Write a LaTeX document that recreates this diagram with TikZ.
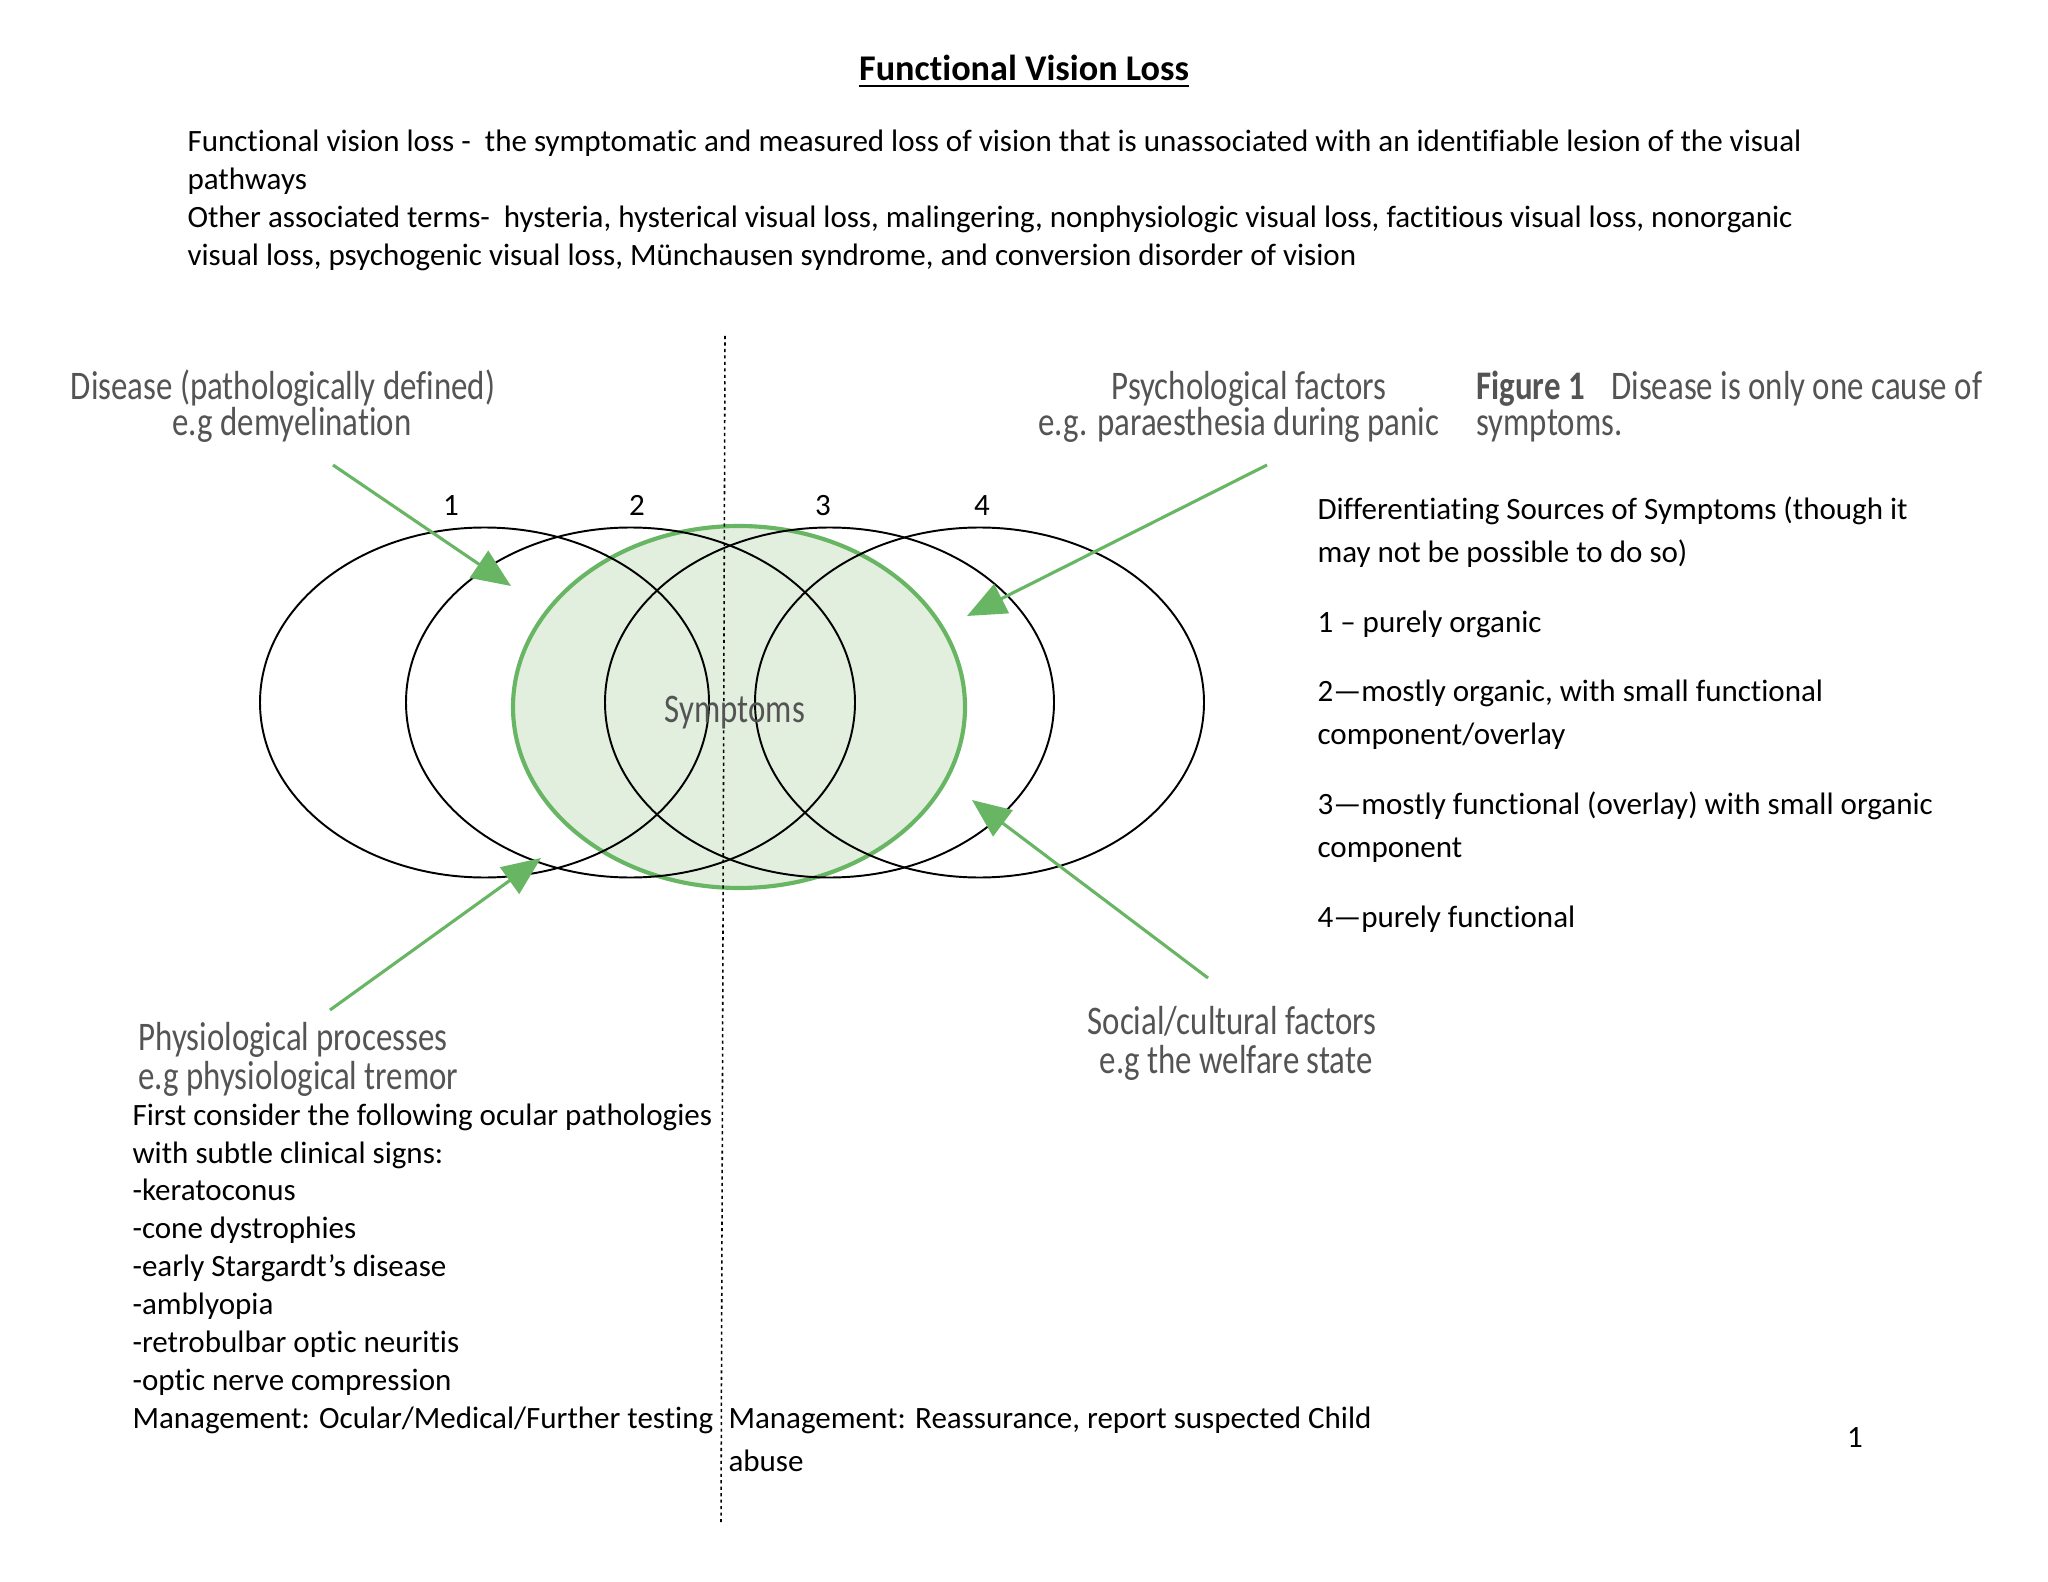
\documentclass[tikz,border=0pt]{standalone}
\usepackage{fontspec}
\setmainfont{Carlito}[Ligatures=CommonOff]
\newfontfamily\figfont[FakeStretch=0.81,Ligatures=CommonOff]{Carlito}
\usetikzlibrary{arrows.meta}
\definecolor{gline}{RGB}{104,182,100}
\definecolor{gfill}{RGB}{226,239,222}
\definecolor{figgray}{RGB}{84,84,84}
\begin{document}
\begin{tikzpicture}[x=0.38672pt,y=-0.38672pt,
  body/.style={anchor=base west,inner sep=0pt,font=\fontsize{12}{14.65}\selectfont},
  num/.style={anchor=base,inner sep=0pt,font=\fontsize{12}{14.65}\selectfont},
  fig/.style={anchor=base,inner sep=0pt,font=\figfont\fontsize{15.7}{19}\selectfont,text=figgray},
  figl/.style={fig,anchor=base west},
  ring/.style={draw=black,line width=0.75pt},
  garrow/.style={draw=gline,line width=1.2pt,-{Triangle[length=15pt,width=12.5pt]}}
]
\useasboundingbox[fill=white] (0,0) rectangle (2048,1582);

% title and intro
\node[anchor=base,inner sep=0pt,font=\bfseries\fontsize{14}{17}\selectfont] (title) at (1024,81) {Functional Vision Loss};
\draw[line width=0.8pt] ([yshift=-2pt]title.base west) -- ([yshift=-2pt]title.base east);
\node[body] (p1) at (187,152) {Functional vision loss -\ \ the symptomatic and measured loss of vision that is unassociated with an identifiable lesion of the visual};
\node[body] (p2) at (187,190) {pathways};
\node[body] (p3) at (187,228) {Other associated terms-\ \ hysteria, hysterical visual loss, malingering, nonphysiologic visual loss, factitious visual loss, nonorganic};
\node[body] (p4) at (187,266) {visual loss, psychogenic visual loss, Münchausen syndrome, and conversion disorder of vision};

% diagram
\fill[gfill] (739,707) ellipse [x radius=226, y radius=181];
\draw[gline,line width=1.6pt] (739,707) ellipse [x radius=226, y radius=181];
\draw[ring] (484.5,702.5) ellipse [x radius=224.5, y radius=175];
\draw[ring] (630.5,702.5) ellipse [x radius=224.5, y radius=175];
\draw[ring] (829.5,702.5) ellipse [x radius=224.5, y radius=175];
\draw[ring] (979.5,702.5) ellipse [x radius=224.5, y radius=175];

\coordinate (dtop) at (725,336);
\coordinate (dbot) at (721,1522);
\draw[line width=0.6pt,dash pattern=on 1.2pt off 1.3pt] (dtop) -- (dbot);

\node[num] (n1) at (451,516) {1};
\node[num] (n2) at (637,516) {2};
\node[num] (n3) at (823,516) {3};
\node[num] (n4) at (982,516) {4};

\node[fig] (sym) at (735,722) {Symptoms};

\node[fig] (dis1) at (283,400) {Disease (pathologically defined)};
\node[fig] (dis2) at (292,436) {e.g demyelination};
\node[fig] (psy1) at (1249,400) {Psychological factors};
\node[fig] (psy2) at (1239,436) {e.g. paraesthesia during panic};
\node[figl] (cap1) at (1476,400) {\textbf{Figure 1}\hspace{0.65em}Disease is only one cause of};
\node[figl] (cap2) at (1476,436) {symptoms.};
\node[figl] (phy1) at (138,1050) {Physiological processes};
\node[figl] (phy2) at (138,1089) {e.g physiological tremor};
\node[fig] (soc1) at (1232,1034) {Social/cultural factors};
\node[fig] (soc2) at (1236,1073) {e.g the welfare state};

\coordinate (a1s) at (333,465);  \coordinate (a1e) at (511,586);
\coordinate (a2s) at (1267,465); \coordinate (a2e) at (967,616);
\coordinate (a3s) at (330,1010); \coordinate (a3e) at (541,858);
\coordinate (a4s) at (1208,978); \coordinate (a4e) at (972,800);
\draw[garrow] (a1s) -- (a1e);
\draw[garrow] (a2s) -- (a2e);
\draw[garrow] (a3s) -- (a3e);
\draw[garrow] (a4s) -- (a4e);

% right column
\node[body] (r1) at (1317,519) {Differentiating Sources of Symptoms (though it};
\node[body] (r2) at (1317,562) {may not be possible to do so)};
\node[body] (r3) at (1317,632) {1 – purely organic};
\node[body] (r4) at (1317,701) {2—mostly organic, with small functional};
\node[body] (r5) at (1317,744) {component/overlay};
\node[body] (r6) at (1317,814) {3—mostly functional (overlay) with small organic};
\node[body] (r7) at (1317,857) {component};
\node[body] (r8) at (1317,927) {4—purely functional};

% left list
\node[body] (l1) at (132,1125) {First consider the following ocular pathologies};
\node[body] (l2) at (132,1163) {with subtle clinical signs:};
\node[body] (l3) at (132,1200) {-keratoconus};
\node[body] (l4) at (132,1238) {-cone dystrophies};
\node[body] (l5) at (132,1276) {-early Stargardt’s disease};
\node[body] (l6) at (132,1314) {-amblyopia};
\node[body] (l7) at (132,1352) {-retrobulbar optic neuritis};
\node[body] (l8) at (132,1390) {-optic nerve compression};
\node[body] (l9) at (132,1428) {Management: Ocular/Medical/Further testing};

\node[body] (m1) at (728,1428) {Management: Reassurance, report suspected Child};
\node[body] (m2) at (728,1471) {abuse};

\node[num] (pg) at (1855,1447) {1};
\end{tikzpicture}
\end{document}
